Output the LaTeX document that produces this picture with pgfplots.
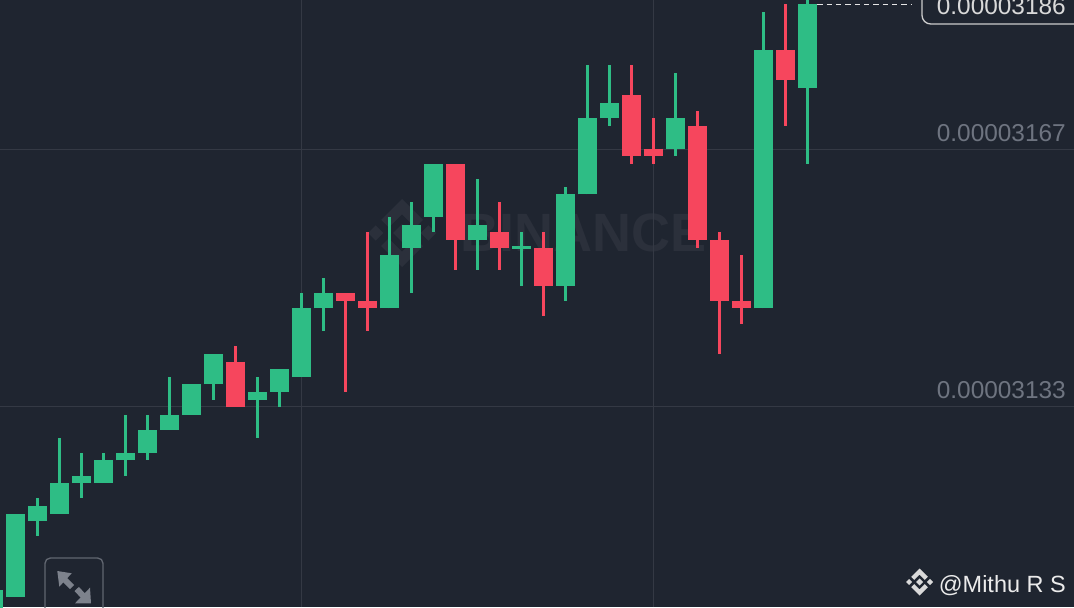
\documentclass[border=0pt]{standalone}
\usepackage{fontspec}
\setmainfont{Liberation Sans}
\usepackage{pgfplots}
\usepackage{pgfplotstable}
\pgfplotsset{compat=1.18}

\definecolor{bg}{HTML}{1F2530}
\definecolor{gridc}{HTML}{343944}
\definecolor{up}{HTML}{2EBD85}
\definecolor{down}{HTML}{F6465D}
\definecolor{wm}{HTML}{2B303B}
\definecolor{axtext}{HTML}{6E7480}
\definecolor{btn}{HTML}{7D828C}

% prices in units of 1e-8
\pgfplotstableread{
i  o       c       h    l
0  3104    3109    3109 3104
1  3108    3119    3119 3108
2  3118    3120    3121 3116
3  3119    3123    3129 3119
4  3123    3124    3127 3121
5  3123    3126    3127 3123
6  3126    3127    3132 3124
7  3127    3130    3132 3126
8  3130    3132    3137 3130
9  3132    3136    3136 3132
10 3136    3140    3140 3134
12 3134    3135    3137 3129
13 3135    3138    3138 3133
14 3137    3146    3148 3137
15 3146    3148    3150 3143
18 3146    3153    3158 3146
19 3154    3157    3160 3148
20 3158    3165    3165 3156
22 3155    3157    3163 3151
24 3153.85 3154.15 3156 3149
26 3149    3161    3162 3147
27 3161    3171    3178 3161
28 3171    3173    3178 3170
31 3167    3171    3177 3166
35 3146    3180    3185 3146
37 3175    3186    3187 3165
}\bull

\pgfplotstableread{
i  o    c    h    l
11 3139 3133 3141 3133
16 3148 3147 3148 3135
17 3147 3146 3156 3143
21 3165 3155 3165 3151
23 3156 3154 3160 3151
25 3154 3149 3156 3145
29 3174 3166 3178 3165
30 3167 3166 3171 3165
32 3170 3155 3172 3154
33 3155 3147 3156 3140
34 3147 3146 3153 3144
36 3180 3176 3186 3170
}\bear

\pgfplotsset{
  wick/.style={draw=none, no markers, forget plot, error bars/.cd, y dir=both, y explicit, error mark=none,
    error bar style={draw=#1, line width=2pt}},
  body/.style={draw=none, no markers, forget plot, error bars/.cd, y dir=both, y explicit, error mark=none,
    error bar style={draw=#1, line width=14.4pt}},
}

\newcommand{\binlogo}[4]{% x, y, radius, colour
\begin{scope}[shift={(#1,#2)}, x=#3*0.75pt, y=#3*0.75pt]
\fill[#4] (-.388,.16) -- (0,.548) -- (.389,.159) -- (.615,.385) -- (0,1) -- (-.614,.386) -- cycle;
\fill[#4] (-.388,-.16) -- (0,-.548) -- (.389,-.159) -- (.615,-.385) -- (0,-1) -- (-.614,-.386) -- cycle;
\fill[#4] (-1,0) -- (-.774,.226) -- (-.548,0) -- (-.774,-.226) -- cycle;
\fill[#4] (1,0) -- (.774,.226) -- (.548,0) -- (.774,-.226) -- cycle;
\fill[#4] (-.26,0) -- (0,.26) -- (.26,0) -- (0,-.26) -- cycle;
\end{scope}}

\begin{document}
\begin{tikzpicture}
\clip (0,0) rectangle (805.5pt,455.25pt);
\fill[bg] (0,0) rectangle (805.5pt,455.25pt);

% watermark, under the candles
\begin{scope}[x=0.75pt, y=-0.75pt, shift={(0,-607)}]
\binlogo{402}{233}{34}{wm}
\node[anchor=base west, inner sep=0, text=wm, font=\fontsize{40.5pt}{40.5pt}\selectfont\bfseries] at (460,252) {BINANCE};
\end{scope}

\begin{axis}[
  scale only axis,
  width=805.5pt, height=455.25pt,
  xmin=0.2955, xmax=49.114,
  ymin=3106.70, ymax=3186.566,
  axis line style={draw=none},
  major tick length=0pt,
  xtick={14,30}, xticklabels={},
  ytick={3133.14,3166.83},
  yticklabels={0.00003133,0.00003167},
  yticklabel pos=right,
  yticklabel style={anchor=base east, inner sep=0pt, xshift=-6pt, yshift=6pt,
    font=\fontsize{18.3pt}{18.3pt}\selectfont, text=axtext},
  grid=major,
  grid style={draw=gridc, line width=0.75pt},
]
% wicks
\addplot[wick=up] table[x=i, y=o, y error plus expr=\thisrow{h}-\thisrow{o}, y error minus expr=\thisrow{o}-\thisrow{l}] {\bull};
\addplot[wick=down] table[x=i, y=o, y error plus expr=\thisrow{h}-\thisrow{o}, y error minus expr=\thisrow{o}-\thisrow{l}] {\bear};
% bodies
\addplot[body=up] table[x=i, y=o, y error plus expr=\thisrow{c}-\thisrow{o}, y error minus expr=0] {\bull};
\addplot[body=down] table[x=i, y=o, y error plus expr=0, y error minus expr=\thisrow{o}-\thisrow{c}] {\bear};
% last price line
\addplot[white!90!black, line width=0.75pt, dash pattern=on 4pt off 3pt, forget plot] coordinates {(37.45,3186) (41.75,3186)};
\end{axis}

\begin{scope}[x=0.75pt, y=-0.75pt, shift={(0,-607)}]
% last price box
\draw[draw=white!80!black, fill=bg, line width=1pt, rounded corners=6.5pt] (922,-20) rectangle (1090,24);
\node[anchor=base east, inner sep=0, text=white!85!black, font=\fontsize{18.3pt}{18.3pt}\selectfont] at (1066,14.5) {0.00003186};
% expand button
\draw[draw=btn!70!bg, line width=1pt, rounded corners=4pt] (45,558) rectangle (103,630);
\fill[btn] (57.3,571) -- (71.7,573.3) -- (59.3,586.7) -- cycle;
\fill[btn] (91,603.3) -- (75,603.3) -- (90,587.7) -- cycle;
\draw[btn, line width=4.5pt] (63,578) -- (72,587);
\draw[btn, line width=4.5pt] (83.3,596) -- (76.7,589);
% credit
\binlogo{919.5}{582}{13.5}{white!85!black}
\node[anchor=base east, inner sep=0, text=white!92!black, font=\fontsize{17.6pt}{17.6pt}\selectfont] at (1066,592) {@Mithu R S};
\end{scope}
\end{tikzpicture}
\end{document}
